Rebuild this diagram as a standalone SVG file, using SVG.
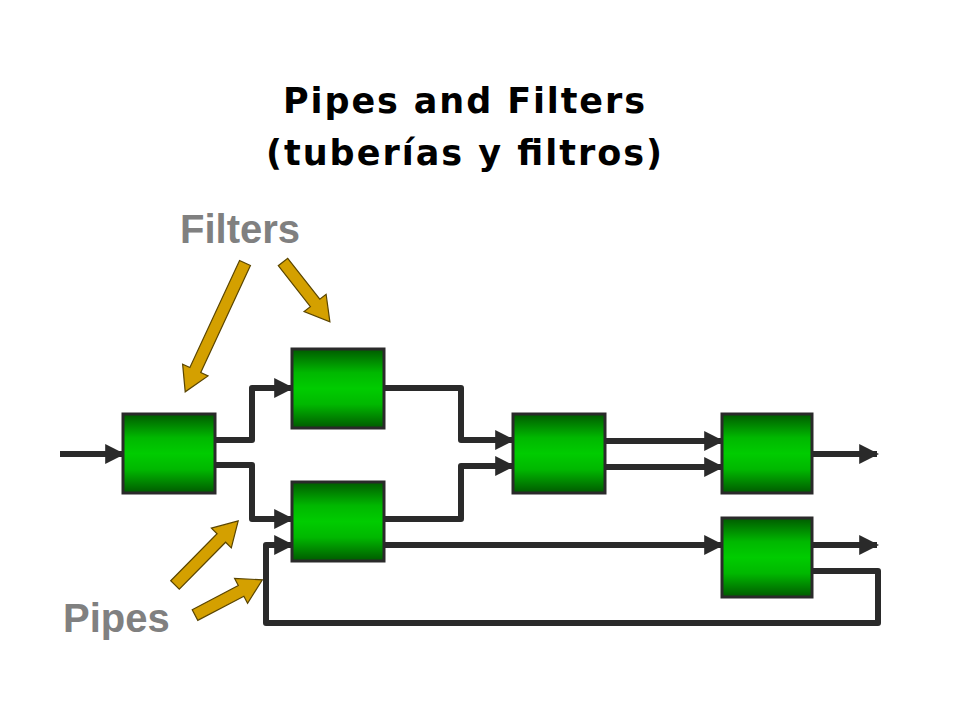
<svg xmlns="http://www.w3.org/2000/svg" width="960" height="720" viewBox="0 0 960 720">
<defs>
<linearGradient id="g" x1="0" y1="0" x2="0" y2="1">
<stop offset="0" stop-color="#005a00"/><stop offset="0.3" stop-color="#00b800"/><stop offset="0.5" stop-color="#00cc00"/><stop offset="0.7" stop-color="#00b800"/><stop offset="1" stop-color="#005a00"/>
</linearGradient>
<marker id="ah" viewBox="0 0 10 10" refX="9" refY="5" markerWidth="3.3" markerHeight="3.6" orient="auto" markerUnits="strokeWidth"><path d="M0,0 L10,5 L0,10 Z" fill="#2a2a2a"/></marker>
</defs>
<style>
.box{fill:url(#g);stroke:#2a2a2a;stroke-width:3}
.p{fill:none;stroke:#2a2a2a;stroke-width:6;stroke-linejoin:round}
.gold{fill:#d4a000;stroke:#5a4500;stroke-width:1.2}
.t{font-family:"DejaVu Sans",sans-serif;font-weight:bold;font-size:35px;text-anchor:middle;fill:#000}
.l{font-family:"Liberation Sans",Arial,sans-serif;font-weight:bold;font-size:40px;fill:#808080}
</style>
<rect width="960" height="720" fill="#fff"/>
<text class="t" x="464" y="113" textLength="362">Pipes and Filters</text>
<text class="t" x="464" y="165" textLength="396">(tuberías y filtros)</text>
<text class="l" x="180" y="243">Filters</text>
<text class="l" x="63" y="632">Pipes</text>
<g id="pointers">
<polygon class="gold" points="0,-6 118,-6 118,-14 142,0 118,14 118,6 0,6" transform="translate(245,263) rotate(114.9)"/>
<polygon class="gold" points="0,-6 52,-6 52,-14 76,0 52,14 52,6 0,6" transform="translate(283,262) rotate(51.9)"/>
<polygon class="gold" points="0,-6 66,-6 66,-14 90,0 66,14 66,6 0,6" transform="translate(175,585) rotate(-45.4)"/>
<polygon class="gold" points="0,-6 52,-6 52,-14 76,0 52,14 52,6 0,6" transform="translate(195,615) rotate(-27.6)"/>
</g>
<g id="connectors">
<path class="p" marker-end="url(#ah)" d="M60,454 H123"/>
<path class="p" marker-end="url(#ah)" d="M215,440 H252 V388 H292"/>
<path class="p" marker-end="url(#ah)" d="M215,465 H252 V519 H292"/>
<path class="p" marker-end="url(#ah)" d="M384,388 H461 V440 H513"/>
<path class="p" marker-end="url(#ah)" d="M384,519 H461 V466 H513"/>
<path class="p" marker-end="url(#ah)" d="M605,441 H722"/>
<path class="p" marker-end="url(#ah)" d="M605,467 H722"/>
<path class="p" marker-end="url(#ah)" d="M812,454 H877"/>
<path class="p" marker-end="url(#ah)" d="M384,545 H722"/>
<path class="p" marker-end="url(#ah)" d="M812,545 H877"/>
<path class="p" marker-end="url(#ah)" d="M812,571 H878 V623 H266 V545 H292"/>
</g>
<g id="f1"><rect class="box" x="123" y="414" width="92" height="79"/></g>
<g id="f2"><rect class="box" x="292" y="349" width="92" height="79"/></g>
<g id="f3"><rect class="box" x="292" y="482" width="92" height="79"/></g>
<g id="f4"><rect class="box" x="513" y="414" width="92" height="79"/></g>
<g id="f5"><rect class="box" x="722" y="414" width="90" height="79"/></g>
<g id="f6"><rect class="box" x="722" y="518" width="90" height="79"/></g>
</svg>
